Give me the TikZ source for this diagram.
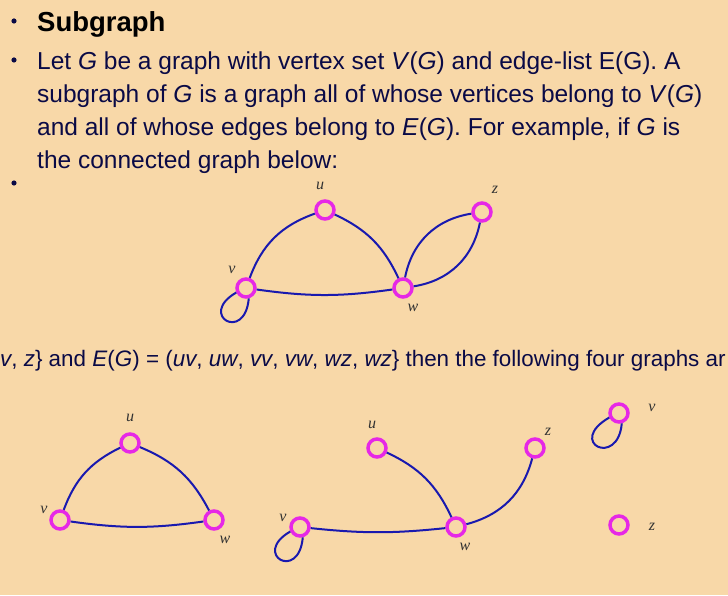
\documentclass[tikz,border=0pt]{standalone}
\usepackage{fontspec}
\setmainfont{Liberation Sans}
\newfontfamily\labelfont{Liberation Serif}
\definecolor{slidebg}{RGB}{248,216,168}
\definecolor{bodytext}{RGB}{10,10,70}
\definecolor{vtxpink}{RGB}{230,40,230}
\definecolor{edgeblue}{RGB}{25,25,175}
\tikzset{
  vtx/.style={circle, draw=vtxpink, line width=3.5pt, fill=slidebg, minimum size=18pt, inner sep=0pt},
  lbl/.style={font=\labelfont\itshape\fontsize{16}{16}\selectfont, text=black!80},
  edg/.style={draw=edgeblue, line width=2pt},
  line/.style={anchor=base west, inner sep=0pt, text=bodytext, font=\fontsize{24.5}{28}\selectfont}
}
\begin{document}
\begin{tikzpicture}[x=1pt, y=1pt]
    % Background
    \fill[slidebg] (0,0) rectangle (728,595);
    \useasboundingbox (0,0) rectangle (728,595);

    % Text
    \node[line, text=black, font=\bfseries\fontsize{27.5}{30}\selectfont] (title) at (37,563) {Subgraph};
    \node[line] (t1) at (37,525) {Let \textit{G} be a graph with vertex set \textit{V}(\textit{G}) and edge-list E(G). A};
    \node[line] (t2) at (37,492) {subgraph of \textit{G} is a graph all of whose vertices belong to \textit{V}(\textit{G})};
    \node[line] (t3) at (37,459) {and all of whose edges belong to \textit{E}(\textit{G}). For example, if \textit{G} is};
    \node[line] (t4) at (37,426) {the connected graph below:};
    \node[line, font=\fontsize{22.4}{26}\selectfont] (t5) at (0,229) {\textit{v}, \textit{z}\} and \textit{E}(\textit{G}) = (\textit{uv}, \textit{uw}, \textit{vv}, \textit{vw}, \textit{wz}, \textit{wz}\} then the following four graphs ar};
    % Bullets
    \foreach \y in {574, 535, 412}
        \fill[bodytext] (14,\y) circle (2.6pt);

    % Graph G
    \node[vtx] (u) at (325,385) {};
    \node[vtx] (z) at (482,383) {};
    \node[vtx] (v) at (246,307) {};
    \node[vtx] (w) at (403,307) {};
    \node[lbl] at (320,409) {u};
    \node[lbl] at (495,405) {z};
    \node[lbl] at (232,325) {v};
    \node[lbl] at (413,287) {w};
    \draw[edg] (v) to[bend left=25] (u);
    \draw[edg] (u) to[bend left=20] (w);
    \draw[edg] (v) to[bend right=8] (w);
    \draw[edg] (w) to[bend left=35] (z);
    \draw[edg] (w) to[bend right=35] (z);
    \draw[edg] (v.205) .. controls +(210:45) and +(-95:45) .. (v.-75);

    % First subgraph
    \node[vtx] (u2) at (130,152) {};
    \node[vtx] (v2) at (60,75) {};
    \node[vtx] (w2) at (214,75) {};
    \node[lbl] at (130,177) {u};
    \node[lbl] at (44,85) {v};
    \node[lbl] at (225,55) {w};
    \draw[edg] (v2) to[bend left=22] (u2);
    \draw[edg] (u2) to[bend left=20] (w2);
    \draw[edg] (v2) to[bend right=8] (w2);

    % Second subgraph
    \node[vtx] (u3) at (377,147) {};
    \node[vtx] (z3) at (535,147) {};
    \node[vtx] (v3) at (300,68) {};
    \node[vtx] (w3) at (456,68) {};
    \node[lbl] at (372,170) {u};
    \node[lbl] at (548,163) {z};
    \node[lbl] at (283,77) {v};
    \node[lbl] at (465,48) {w};
    \draw[edg] (u3) to[bend left=20] (w3);
    \draw[edg] (w3) to[bend right=30] (z3);
    \draw[edg] (v3) to[bend right=6] (w3);
    \draw[edg] (v3.205) .. controls +(210:45) and +(-95:45) .. (v3.-75);

    % Third subgraph
    \node[vtx] (v4) at (619,182) {};
    \node[vtx] (z4) at (619,70) {};
    \node[lbl] at (652,187) {v};
    \node[lbl] at (652,68) {z};
    \draw[edg] (v4.205) .. controls +(210:50) and +(-95:45) .. (v4.-75);
\end{tikzpicture}
\end{document}
